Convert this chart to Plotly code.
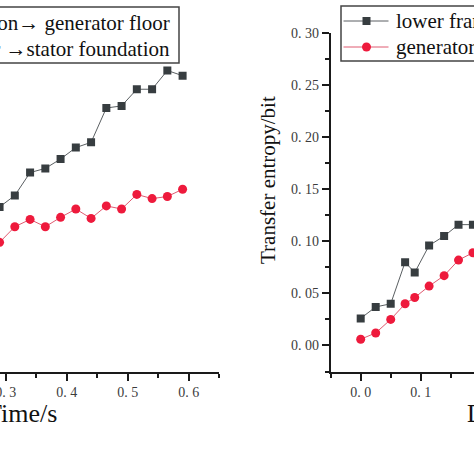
import plotly.graph_objects as go

# ---- data ----
name_a = "lower frame foundation\u2192 generator floor"
name_b = "generator floor \u2192stator foundation"

left_x = [0.29, 0.315, 0.34, 0.365, 0.39, 0.415, 0.44, 0.465, 0.49, 0.515, 0.54, 0.565, 0.59]
left_a = [0.133, 0.144, 0.166, 0.170, 0.179, 0.190, 0.195, 0.228, 0.230, 0.246, 0.246, 0.264, 0.259]
left_b = [0.099, 0.114, 0.121, 0.114, 0.123, 0.131, 0.122, 0.134, 0.131, 0.145, 0.141, 0.143, 0.150]

right_x = [0.0, 0.025, 0.05, 0.074, 0.09, 0.114, 0.139, 0.163, 0.187]
right_a = [0.026, 0.037, 0.040, 0.080, 0.070, 0.096, 0.105, 0.116, 0.116]
right_b = [0.006, 0.012, 0.025, 0.040, 0.046, 0.057, 0.067, 0.082, 0.089]

left_xticks = [0.3, 0.4, 0.5, 0.6]
left_xtext = ["0. 3", "0. 4", "0. 5", "0. 6"]
right_xticks = [0.0, 0.1, 0.2]
right_xtext = ["0. 0", "0. 1", "0. 2"]
yticks = [0.0, 0.05, 0.10, 0.15, 0.20, 0.25, 0.30]
ytext = ["0. 00", "0. 05", "0. 10", "0. 15", "0. 20", "0. 25", "0. 30"]

left_xtitle = "Time/s"
right_xtitle = "Delay time/s"
ytitle = "Transfer entropy/bit"

# ---- style ----
W = H = 474
SERIF = "Liberation Serif, Times New Roman, serif"
DARK = "#373d40"
DARK_LINE = "#5a5f62"
RED = "#ee1a3c"
RED_LINE = "#df5a70"
AXC = "#1a1a1a"
TICKC = "#3c3c3c"
TXT = "#111111"

fig = go.Figure()

def add(x, y, name, color, lcolor, symbol, size, xa, ya):
    fig.add_trace(go.Scatter(
        x=x, y=y, name=name, mode="lines+markers",
        line=dict(color=lcolor, width=1),
        marker=dict(color=color, symbol=symbol, size=size, line=dict(width=0)),
        xaxis=xa, yaxis=ya, showlegend=False))

add(left_x, left_a, name_a, DARK, DARK_LINE, "square", 8, "x", "y")
add(left_x, left_b, name_b, RED, RED_LINE, "circle", 9, "x", "y")
add(right_x, right_a, name_a, DARK, DARK_LINE, "square", 8, "x2", "y2")
add(right_x, right_b, name_b, RED, RED_LINE, "circle", 9, "x2", "y2")

y_dom = [(H - 371.5) / H, (H - 33) / H]
tickfont = dict(family=SERIF, size=14, color=TICKC)

common_x = dict(showline=True, linecolor=AXC, linewidth=2, ticks="outside", ticklen=7,
                tickwidth=2, tickcolor=AXC, showgrid=False, zeroline=False,
                tickfont=tickfont, ticklabeloverflow="allow", automargin=False,
                minor=dict(ticks="outside", ticklen=4, tickwidth=2, tickcolor=AXC,
                           dtick=0.05, tick0=0, showgrid=False))

# ---- manual legends (pixel helpers) ----
def px(x):
    return x / W

def py(y):
    return 1 - y / H

shapes = []
annotations = []

def legend_box(x0, x1, y0, y1, entries, text_x, text_anchor, sym_x):
    shapes.append(dict(type="rect", xref="paper", yref="paper",
                       x0=px(x0), x1=px(x1), y0=py(y1), y1=py(y0),
                       line=dict(color="#444", width=1.5), fillcolor="white", layer="above"))
    for (name, color, lcolor, sym, yc) in entries:
        shapes.append(dict(type="line", xref="paper", yref="paper",
                           x0=px(sym_x - 23), x1=px(sym_x + 22), y0=py(yc), y1=py(yc),
                           line=dict(color=lcolor, width=1), layer="above"))
        r = 4 if sym == "square" else 4.5
        shapes.append(dict(type="rect" if sym == "square" else "circle",
                           xref="paper", yref="paper",
                           x0=px(sym_x - r), x1=px(sym_x + r), y0=py(yc + r), y1=py(yc - r),
                           line=dict(width=0), fillcolor=color, layer="above"))
        annotations.append(dict(text=name, x=px(text_x), y=py(yc), xref="paper", yref="paper",
                                xanchor=text_anchor, yanchor="middle", showarrow=False,
                                font=dict(family=SERIF, size=21, color=TXT)))

# left legend: right edge visible, text right-aligned near 171
legend_box(-260, 179, 7, 63,
           [(name_a, DARK, DARK_LINE, "square", 23), (name_b, RED, RED_LINE, "circle", 49)],
           172, "right", -200)
# right legend: left edge visible
legend_box(341, 800, 6, 61,
           [(name_a, DARK, DARK_LINE, "square", 21), (name_b, RED, RED_LINE, "circle", 47)],
           394, "left", 366.5)

annotations += [
    dict(text=left_xtitle, x=px(21), y=py(413), xref="paper", yref="paper",
         xanchor="center", yanchor="middle", showarrow=False,
         font=dict(family=SERIF, size=26, color=TXT)),
    dict(text=right_xtitle, x=px(465), y=py(413), xref="paper", yref="paper",
         xanchor="left", yanchor="middle", showarrow=False,
         font=dict(family=SERIF, size=25, color=TXT)),
    dict(text=ytitle, x=px(268), y=py(180), xref="paper", yref="paper",
         xanchor="center", yanchor="middle", textangle=-90, showarrow=False,
         font=dict(family=SERIF, size=21, color=TXT)),
]

fig.update_layout(
    width=W, height=H, margin=dict(l=0, r=0, t=0, b=0, autoexpand=False),
    paper_bgcolor="white", plot_bgcolor="white", showlegend=False,
    xaxis=dict(domain=[0, 219.2 / W], range=[0.2907, 0.65], anchor="y",
               tickmode="array", tickvals=left_xticks, ticktext=left_xtext, **common_x),
    yaxis=dict(domain=y_dom, range=[-0.025, 0.30], visible=False, anchor="x"),
    xaxis2=dict(domain=[330.7 / W, 1], range=[-0.05, 0.1888], anchor="y2",
                tickmode="array", tickvals=right_xticks, ticktext=right_xtext, **common_x),
    yaxis2=dict(domain=y_dom, range=[-0.025, 0.30], anchor="x2",
                showline=True, linecolor=AXC, linewidth=2, ticks="outside", ticklen=7,
                tickwidth=2, tickcolor=AXC, showgrid=False, zeroline=False,
                tickfont=tickfont, ticklabeloverflow="allow", automargin=False,
                tickmode="array", tickvals=yticks, ticktext=ytext,
                minor=dict(ticks="outside", ticklen=4, tickwidth=2, tickcolor=AXC,
                           dtick=0.025, tick0=0, showgrid=False)),
    shapes=shapes,
    annotations=annotations,
)

fig.write_html("out.html")
